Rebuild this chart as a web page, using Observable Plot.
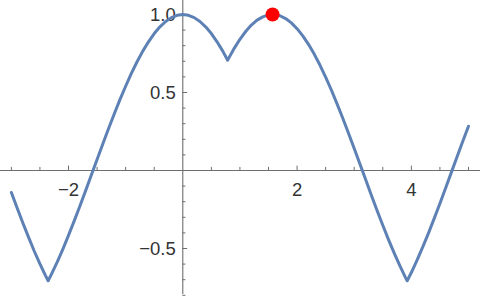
<!DOCTYPE html>
<html>
<head>
<meta charset="utf-8">
<script src="https://cdn.jsdelivr.net/npm/d3@7"></script>
<script src="https://cdn.jsdelivr.net/npm/@observablehq/plot@0.6"></script>
<style>
  html, body { margin: 0; padding: 0; background: #fff; }
  svg { display: block; }
</style>
</head>
<body>
<div id="chart"></div>
<script>
// curve samples
const xs = [-3.0,-2.9,-2.8,-2.7,-2.6,-2.5,-2.4,-2.356,-2.3,-2.2,-2.1,-2.0,-1.9,-1.8,-1.7,-1.6,-1.5,-1.4,-1.3,-1.2,-1.1,-1.0,-0.9,-0.8,-0.7,-0.6,-0.5,-0.4,-0.3,-0.2,-0.1,0.0,0.1,0.2,0.3,0.4,0.5,0.6,0.7,0.785,0.8,0.9,1.0,1.1,1.2,1.3,1.4,1.5,1.571,1.6,1.7,1.8,1.9,2.0,2.1,2.2,2.3,2.4,2.5,2.6,2.7,2.8,2.9,3.0,3.1,3.2,3.3,3.4,3.5,3.6,3.7,3.8,3.9,3.927,4.0,4.1,4.2,4.3,4.4,4.5,4.6,4.7,4.8,4.9,5.0];
const ys = [-0.141,-0.239,-0.335,-0.427,-0.516,-0.598,-0.675,-0.707,-0.666,-0.589,-0.505,-0.416,-0.323,-0.227,-0.129,-0.029,0.071,0.170,0.268,0.362,0.454,0.540,0.622,0.697,0.765,0.825,0.878,0.921,0.955,0.980,0.995,1.000,0.995,0.980,0.955,0.921,0.878,0.825,0.765,0.707,0.717,0.783,0.841,0.891,0.932,0.964,0.985,0.998,1.000,1.000,0.992,0.974,0.946,0.909,0.863,0.809,0.746,0.676,0.598,0.516,0.427,0.335,0.239,0.141,0.042,-0.058,-0.158,-0.256,-0.351,-0.443,-0.530,-0.612,-0.688,-0.707,-0.654,-0.575,-0.490,-0.401,-0.307,-0.211,-0.112,-0.012,0.088,0.187,0.284];
// highlighted point
const pointX = [1.571];
const pointY = [1.0];
// ticks
const xMajor = [-2, 2, 4];
const xMajorLabels = ["\u22122", "2", "4"];
const xMinor = [-3, -2.5, -1.5, -1, -0.5, 0.5, 1, 1.5, 2.5, 3, 3.5, 4.5, 5];
const yMajor = [-0.5, 0.5, 1.0];
const yMajorLabels = ["\u22120.5", "0.5", "1.0"];
const yMinor = [-0.8, -0.7, -0.6, -0.4, -0.3, -0.2, -0.1, 0.1, 0.2, 0.3, 0.4, 0.6, 0.7, 0.8, 0.9];

const curve = xs.map((x, i) => ({x, y: ys[i]}));
const pts = pointX.map((x, i) => ({x, y: pointY[i]}));
const xLab = xMajor.map((v, i) => ({v, t: xMajorLabels[i]}));
const yLab = yMajor.map((v, i) => ({v, t: yMajorLabels[i]}));

const axisColor = "#6e6e6e";
const chart = Plot.plot({
  width: 480, height: 298,
  marginTop: 0, marginBottom: 0, marginLeft: 0, marginRight: 0,
  x: {domain: [-3.19, 5.21], axis: null},
  y: {domain: [-0.8205, 1.0897], axis: null},
  style: {fontFamily: "'Liberation Sans', Arial, sans-serif", fontSize: "18.5px", background: "#fff"},
  marks: [
    Plot.ruleY([0], {stroke: axisColor, strokeWidth: 1.1}),
    Plot.ruleX([0], {y1: -0.795, y2: 1.0897, stroke: axisColor, strokeWidth: 1.1}),
    Plot.ruleX(xMajor, {x: d => d, y1: 0, y2: 0.028, stroke: axisColor}),
    Plot.ruleX(xMinor, {x: d => d, y1: 0, y2: 0.02, stroke: axisColor}),
    Plot.ruleY(yMajor, {y: d => d, x1: 0, x2: 0.085, stroke: axisColor}),
    Plot.ruleY(yMinor, {y: d => d, x1: 0, x2: 0.055, stroke: axisColor}),
    Plot.text(xLab, {x: "v", y: 0, text: "t", dy: 20, fill: "#333", textAnchor: "middle"}),
    Plot.text(yLab, {x: 0, y: "v", text: "t", dx: -7, dy: 1, fill: "#333", textAnchor: "end"}),
    Plot.line(curve, {x: "x", y: "y", stroke: "#5E81B5", strokeWidth: 3, strokeLinejoin: "round"}),
    Plot.dot(pts, {x: "x", y: "y", r: 7, fill: "#FF0000", stroke: "none"})
  ]
});
document.getElementById("chart").appendChild(chart);
</script>
</body>
</html>
